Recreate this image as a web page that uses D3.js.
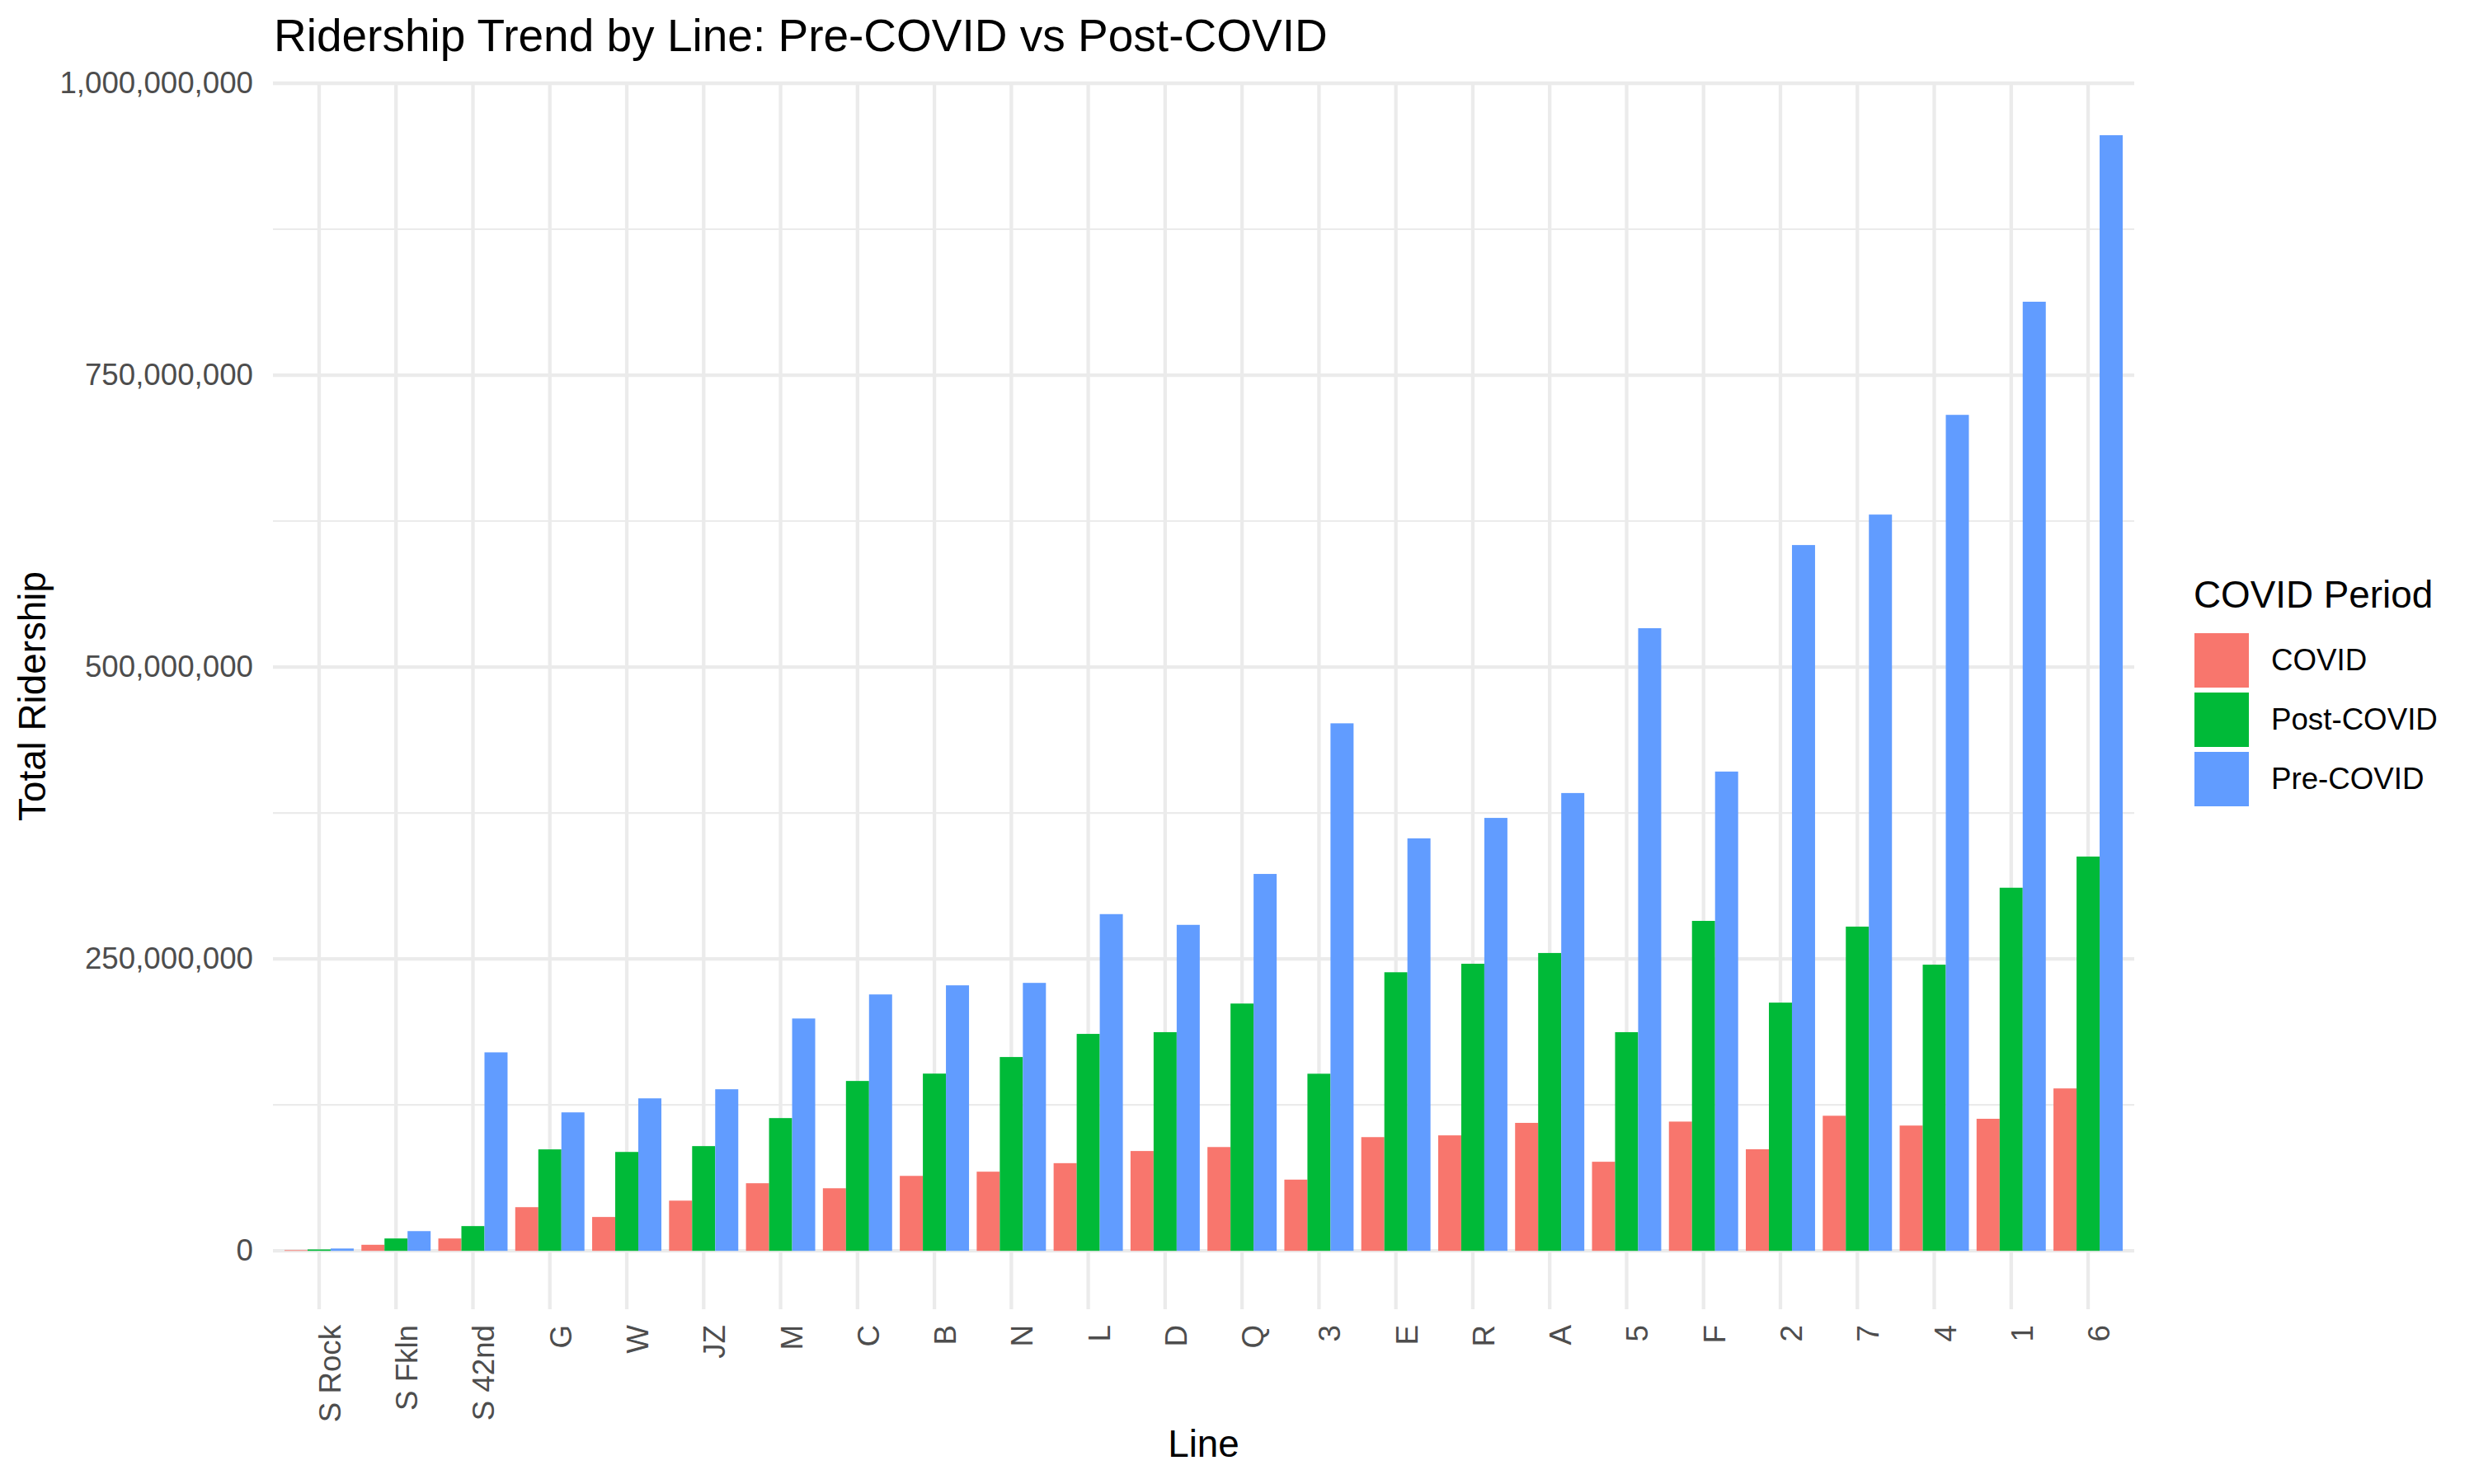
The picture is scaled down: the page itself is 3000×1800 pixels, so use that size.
<!DOCTYPE html>
<html>
<head>
<meta charset="utf-8">
<script src="https://cdn.jsdelivr.net/npm/d3@7"></script>
<style>
  body { margin: 0; background: #fff; }
  svg { display: block; font-family: "Liberation Sans", Arial, sans-serif; }
</style>
</head>
<body>
<div id="chart"></div>
<script>
// data
const lines = ["S Rock", "S Fkln", "S 42nd", "G", "W", "JZ", "M", "C", "B", "N", "L", "D",
               "Q", "3", "E", "R", "A", "5", "F", "2", "7", "4", "1", "6"];
const covid = [0.6e6, 5.2e6, 10.6e6, 37.4e6, 29e6, 43e6, 57.9e6, 53.6e6, 64.2e6, 67.8e6, 75.1e6, 85.5e6,
               88.9e6, 61e6, 97.4e6, 98.9e6, 109.6e6, 76.3e6, 110.7e6, 87e6, 115.7e6, 107.3e6, 113.1e6, 139.1e6];
const postCovid = [1.2e6, 10.6e6, 21.2e6, 86.9e6, 84.7e6, 89.7e6, 113.7e6, 145.5e6, 151.8e6, 166e6, 185.8e6, 187.3e6,
                   211.8e6, 151.7e6, 238.6e6, 245.9e6, 255.1e6, 187.3e6, 282.6e6, 212.6e6, 277.7e6, 245.1e6, 311e6, 337.7e6];
const preCovid = [2.0e6, 16.9e6, 170e6, 118.6e6, 130.6e6, 138.4e6, 199e6, 219.6e6, 227.4e6, 229.5e6, 288.4e6, 279.2e6,
                  322.8e6, 451.8e6, 353.3e6, 370.8e6, 392.1e6, 533.3e6, 410.5e6, 604.5e6, 630.6e6, 716e6, 812.9e6, 955.5e6];
const periods = ["COVID", "Post-COVID", "Pre-COVID"];
const colors = ["#F8766D", "#00BA38", "#619CFF"];
const yTicks = [0, 250e6, 500e6, 750e6, 1000e6];
const yMinor = [125e6, 375e6, 625e6, 875e6];

const W = 3000, H = 1800;
const panel = { left: 331, right: 2588, top: 101, bottom: 1588 };
const grid = "#EBEBEB";

const svg = d3.select("#chart").append("svg")
  .attr("width", W).attr("height", H);
svg.append("rect").attr("width", W).attr("height", H).attr("fill", "#fff");

// scales
const x = d3.scaleBand()
  .domain(lines)
  .range([panel.left, panel.right])
  .paddingInner(0.1)
  .paddingOuter(0.15);
const xInner = d3.scaleBand()
  .domain(periods)
  .range([0, x.bandwidth()]);
const y = d3.scaleLinear()
  .domain([-50e6, 1000e6])
  .range([panel.bottom, panel.top]);
const color = d3.scaleOrdinal().domain(periods).range(colors);

// grid
svg.append("g").selectAll("line").data(yMinor).join("line")
  .attr("x1", panel.left).attr("x2", panel.right)
  .attr("y1", d => y(d)).attr("y2", d => y(d))
  .attr("stroke", grid).attr("stroke-width", 2.1);
svg.append("g").selectAll("line").data(yTicks).join("line")
  .attr("x1", panel.left).attr("x2", panel.right)
  .attr("y1", d => y(d)).attr("y2", d => y(d))
  .attr("stroke", grid).attr("stroke-width", 4.3);
svg.append("g").selectAll("line").data(lines).join("line")
  .attr("x1", d => x(d) + x.bandwidth() / 2).attr("x2", d => x(d) + x.bandwidth() / 2)
  .attr("y1", panel.top).attr("y2", panel.bottom)
  .attr("stroke", grid).attr("stroke-width", 4.3);

// bars
const rows = lines.map((l, i) => ({
  line: l,
  values: [
    { period: periods[0], value: covid[i] },
    { period: periods[1], value: postCovid[i] },
    { period: periods[2], value: preCovid[i] }
  ]
}));

svg.append("g").selectAll("g").data(rows).join("g")
  .attr("transform", d => `translate(${x(d.line)},0)`)
  .selectAll("rect").data(d => d.values).join("rect")
  .attr("x", d => xInner(d.period))
  .attr("width", xInner.bandwidth())
  .attr("y", d => y(d.value))
  .attr("height", d => y(0) - y(d.value))
  .attr("fill", d => color(d.period));

// axes
const yAxis = svg.append("g")
  .attr("transform", `translate(${panel.left},0)`)
  .call(d3.axisLeft(y).tickValues(yTicks).tickFormat(d3.format(",")).tickSize(0).tickPadding(24));
yAxis.select(".domain").remove();
yAxis.selectAll("text")
  .attr("fill", "#4D4D4D")
  .style("font-size", "36.7px")
  .style("font-family", "'Liberation Sans', Arial, sans-serif");

const xAxis = svg.append("g")
  .attr("transform", `translate(0,${panel.bottom})`)
  .call(d3.axisBottom(x).tickSize(0));
xAxis.select(".domain").remove();
xAxis.selectAll("text")
  .attr("transform", "rotate(-90)")
  .attr("x", -19)
  .attr("y", 26)
  .attr("dy", null)
  .attr("fill", "#4D4D4D")
  .style("text-anchor", "end")
  .style("font-size", "36.7px")
  .style("font-family", "'Liberation Sans', Arial, sans-serif");

// titles
svg.append("text")
  .attr("x", 332).attr("y", 62)
  .style("font-size", "55px")
  .attr("fill", "#000")
  .text("Ridership Trend by Line: Pre-COVID vs Post-COVID");

svg.append("text")
  .attr("x", (panel.left + panel.right) / 2).attr("y", 1767)
  .attr("text-anchor", "middle")
  .style("font-size", "45.8px")
  .text("Line");

svg.append("text")
  .attr("transform", `translate(55,${(panel.top + panel.bottom) / 2}) rotate(-90)`)
  .attr("text-anchor", "middle")
  .style("font-size", "45.8px")
  .text("Total Ridership");

// legend
const legend = svg.append("g");
legend.append("text")
  .attr("x", 2660).attr("y", 737)
  .style("font-size", "45.8px")
  .text("COVID Period");
const items = legend.selectAll("g.item").data(periods).join("g")
  .attr("class", "item")
  .attr("transform", (d, i) => `translate(2661,${768 + i * 72})`);
items.append("rect")
  .attr("width", 66).attr("height", 66)
  .attr("fill", d => color(d));
items.append("text")
  .attr("x", 93).attr("y", 45)
  .style("font-size", "36.7px")
  .text(d => d);
</script>
</body>
</html>
